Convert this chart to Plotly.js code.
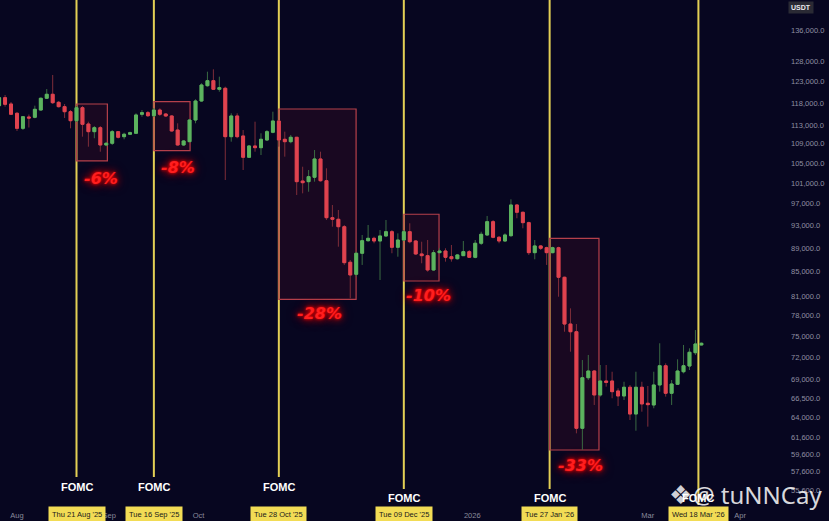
<!DOCTYPE html>
<html>
<head>
<meta charset="utf-8">
<script src="https://cdn.plot.ly/plotly-3.0.1.min.js"></script>
<style>html,body{margin:0;padding:0;background:#070620;}#chart{width:829px;height:521px;}</style>
</head>
<body>
<div id="chart"></div>
<script>
// ---- data (2-day candles, BTC/USDT) ----
const firstCandle = '2025-07-26';
const candleStepDays = 2;
const open  = [117390,119230,117770,115660,112330,114830,114770,116400,119090,120020,118160,117160,116020,114010,116930,113280,111600,112470,108750,109110,111600,110520,111040,111250,115440,115800,115120,116400,115500,115060,111960,108750,109450,114160,118460,122040,123230,121190,121430,110520,115060,110670,106180,108540,108180,109810,111470,113940,109960,109450,110390,101390,101260,102130,105830,101450,94410,94120,92770,86570,84570,88100,90280,90700,90230,91110,91870,89130,90400,91870,90230,87980,87690,85280,88200,88490,87510,87170,87690,88370,87410,89830,91290,93680,90880,90230,91160,96770,95410,93500,88200,89360,89060,88200,89060,84080,76770,75630,62680,69160,70070,66880,68720,68720,67400,66750,67890,64450,67890,65810,65590,68190,70790,67100,68280,69970,70750,72610,73710];
const high  = [119390,119860,118230,115950,115060,115390,117390,119270,121260,124610,118460,117770,116400,117320,117320,113790,112840,112840,109390,111960,111750,111380,111600,115660,116400,116180,116860,116790,115730,115280,113430,109810,114380,118850,122610,125410,125990,124200,121810,115660,115660,111960,108750,113790,111250,111960,116020,114160,111600,110890,110460,104250,103580,107690,107340,103930,96770,95830,93080,86950,88370,91290,93080,90980,92170,93990,92170,91580,92170,93390,90400,90100,90400,88660,88960,88960,89530,87980,90230,88660,90400,91870,94730,93990,91110,91580,97840,96900,95520,93680,90400,89530,89230,89230,89230,84180,79150,76770,71580,72290,70200,70890,70890,69970,67750,68620,68190,69970,68620,68060,69970,73950,71120,68850,71680,73710,73230,75880,74060];
const low   = [117320,117160,115280,111750,111960,112510,114540,116290,118920,117770,116970,114610,112330,113720,110520,108390,110180,107340,108490,108750,110130,109960,110890,111100,114900,114830,114830,115060,114830,111600,108600,108540,109390,113430,118300,121810,121020,120620,101590,109450,110180,103580,106030,107340,106650,109600,111250,108390,106310,109110,98670,98990,99300,101260,101260,93990,92770,89230,86120,80710,84180,86120,90100,89830,83630,90980,88100,87510,90230,89830,87810,86400,85000,85160,88100,86670,86670,87030,87640,87290,87240,89530,91110,90700,89830,90100,90980,94300,92480,87810,87070,88660,86120,88100,80960,75630,72750,62070,60090,68850,65590,66660,67970,66450,65460,66230,63700,62390,64740,62880,65170,67310,66660,65590,68190,69750,70200,72290,73640];
const close = [119230,117700,115440,112330,114900,114610,116560,119090,120020,118070,117160,116020,114010,116930,113210,111600,112470,108750,109110,111600,110390,111040,111380,115280,115800,115120,116400,115440,115060,111750,108750,109600,114160,118460,122210,123230,121190,121570,110520,115060,110520,106180,108540,108180,109960,111600,113940,109810,109450,110390,101260,101060,102250,105830,101450,94410,94120,92770,86500,84460,88100,90280,90700,90230,91110,91870,89130,90400,91870,90100,87980,87690,85280,88200,88490,87410,87170,87810,88370,87410,89830,91410,93680,90880,90230,91290,96770,95410,93500,88200,89360,88960,88200,89060,84080,76770,75630,62680,69160,70070,66880,68720,68540,67310,66750,67890,64450,67890,65720,65630,68190,70790,67100,68320,70070,70790,72670,73850,73950];

// FOMC meeting dates and labels
const fomcDates  = ['2025-08-21','2025-09-16','2025-10-28','2025-12-09','2026-01-27','2026-03-18'];
const fomcLabels = ["Thu 21 Aug '25","Tue 16 Sep '25","Tue 28 Oct '25","Tue 09 Dec '25","Tue 27 Jan '26","Wed 18 Mar '26"];

// post-FOMC drawdown boxes
const boxStart = ['2025-08-21','2025-09-16','2025-10-28','2025-12-09','2026-01-27'];
const boxEnd   = ['2025-08-31 09:00','2025-09-28 04:00','2025-11-22 23:00','2025-12-20 20:00','2026-02-12 14:00'];
const boxHigh  = [117770,118300,116630,95040,90700];
const boxLow   = [105420,107550,80550,83470,60090];
const dropText = ['-6%','-8%','-28%','-10%','-33%'];
const dropDate = ['2025-08-29 05:00','2025-09-24 02:00','2025-11-10 12:00','2025-12-17 05:00','2026-02-06 05:00'];
const dropPrice= [101980,104190,78430,81230,58350];

// axis ticks
const priceTicks = [136000,128000,123000,118000,113000,109000,105000,101000,97000,93000,89000,85000,81000,78000,75000,72000,69000,66500,64000,61600,59600,57600,55600];
const monthTicks = ['2025-08-01','2025-09-01','2025-10-01','2026-01-01','2026-03-01','2026-04-01'];
const monthLabels = ['Aug','Sep','Oct','2026','Mar','Apr'];

// ---- build ----
const dates = [];
(function(){
  const d0 = new Date(firstCandle + 'T00:00:00Z');
  for (let i = 0; i < open.length; i++) {
    const d = new Date(d0.getTime() + i * candleStepDays * 86400000);
    dates.push(d.toISOString().slice(0,10));
  }
})();
const bodyHigh = open.map((o,i)=>Math.max(o, close[i]));
const bodyLow  = open.map((o,i)=>Math.min(o, close[i]));

const UP = '#5cb35f', DOWN = '#e0434f', UPW = '#3a6a42', DOWNW = '#7e2d39';

const wicks = {
  type:'candlestick', x:dates, open:open, high:high, low:low, close:close,
  increasing:{line:{color:UPW,width:1}, fillcolor:UPW},
  decreasing:{line:{color:DOWNW,width:1}, fillcolor:DOWNW},
  hoverinfo:'skip', showlegend:false
};
const bodies = {
  type:'candlestick', x:dates, open:open, high:bodyHigh, low:bodyLow, close:close,
  increasing:{line:{color:UP,width:1}, fillcolor:UP},
  decreasing:{line:{color:DOWN,width:1}, fillcolor:DOWN},
  hoverinfo:'skip', showlegend:false
};

const fmt = v => v.toLocaleString('en-US',{minimumFractionDigits:1,maximumFractionDigits:1});

const plotH = 507;
const lineEndPx = [477,477,477,489,489,505];
const fomcTextPx = [487,487,487,498,498,498];

const shapes = [];
boxStart.forEach((s,i)=>{
  shapes.push({type:'rect', xref:'x', yref:'y', x0:s, x1:boxEnd[i], y0:boxLow[i], y1:boxHigh[i],
    fillcolor:'rgba(150,20,45,0.13)', line:{color:'#b5404b', width:1.2}, layer:'below'});
});
fomcDates.forEach((d,i)=>{
  shapes.push({type:'line', xref:'x', yref:'paper', x0:d, x1:d, y0:(plotH-lineEndPx[i])/plotH, y1:1,
    line:{color:'#e3cf55', width:2}, layer:'below'});
});

const annotations = [];
fomcDates.forEach((d,i)=>{
  annotations.push({xref:'x', yref:'paper', x:d, y:(plotH-fomcTextPx[i])/plotH, text:'FOMC', showarrow:false,
    font:{family:'Arial, Liberation Sans, sans-serif', size:11, color:'#ffffff', weight:'bold'}, xanchor:'center', yanchor:'middle'});
  annotations.push({xref:'x', yref:'paper', x:d, y:(plotH-514)/plotH, text:fomcLabels[i], showarrow:false,
    font:{family:'Arial, Liberation Sans, sans-serif', size:7.5, color:'#1a1a1a'}, bgcolor:'#f2dc55', borderpad:3,
    xanchor:'center', yanchor:'middle'});
});
dropText.forEach((t,i)=>{
  annotations.push({xref:'x', yref:'y', x:dropDate[i], y:Math.log10(dropPrice[i]), text:t, showarrow:false,
    font:{family:'DejaVu Sans, Arial, sans-serif', size:16, color:'#ff1e1e', weight:'bold', style:'italic',
      shadow:'0px 0px 3px #ff0000, 0px 0px 7px #e00000, 0px 0px 12px #a00000'}, xanchor:'center', yanchor:'middle'});
});
// USDT badge
annotations.push({xref:'paper', yref:'paper', x:801/779, y:(plotH-8)/plotH, text:'USDT', showarrow:false,
  font:{family:'Arial, Liberation Sans, sans-serif', size:7, color:'#e8e8ee', weight:'bold'}, bgcolor:'#2a2a34', borderpad:2,
  xanchor:'center', yanchor:'middle'});
// watermark
annotations.push({xref:'paper', yref:'paper', x:680/779, y:(plotH-495)/plotH, text:'❖', showarrow:false,
  font:{family:'DejaVu Sans, sans-serif', size:26, color:'rgba(255,255,255,0.82)'}, xanchor:'center', yanchor:'middle'});
annotations.push({xref:'paper', yref:'paper', x:824/779, y:(plotH-494)/plotH, text:'@ tuNNCay', showarrow:false,
  font:{family:'Noto Sans, DejaVu Sans, sans-serif', size:24, color:'rgba(255,255,255,0.85)'}, xanchor:'right', yanchor:'middle'});

// y range so that 136,000 sits at y=30px and ~514 px per ln unit
const yTop = (Math.log(136000) + 30/514.2)/Math.LN10;
const yBot = (Math.log(136000) - (plotH-30)/514.2)/Math.LN10;

const layout = {
  width:829, height:521,
  margin:{l:0, r:50, t:0, b:14, pad:0},
  paper_bgcolor:'#070620', plot_bgcolor:'#070620',
  showlegend:false,
  xaxis:{type:'date', range:['2025-07-26 07:00','2026-04-14 02:00'], rangeslider:{visible:false},
    showgrid:false, zeroline:false, showline:false, ticks:'',
    tickvals:monthTicks, ticktext:monthLabels, tickfont:{family:'Arial, Liberation Sans, sans-serif', size:7.5, color:'#8a8a9c'},
    ticklabelstandoff:2, fixedrange:true},
  yaxis:{type:'log', side:'right', range:[yBot, yTop], showgrid:false, zeroline:false, showline:false, ticks:'',
    tickvals:priceTicks, ticktext:priceTicks.map(fmt),
    tickfont:{family:'Arial, Liberation Sans, sans-serif', size:7.5, color:'#8f8fa2'}, ticklabelstandoff:11, fixedrange:true},
  shapes:shapes, annotations:annotations,
  boxgap:0.3
};

Plotly.newPlot('chart', [wicks, bodies], layout, {displayModeBar:false, staticPlot:true});
</script>
</body>
</html>
